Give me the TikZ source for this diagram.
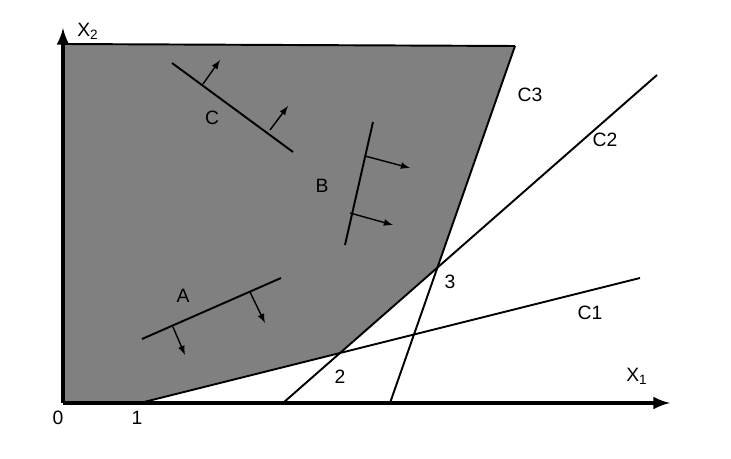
\documentclass[tikz,border=0pt]{standalone}
\usepackage{fontspec}
\setmainfont{Liberation Sans}
\begin{document}
\begin{tikzpicture}[x=0.02cm,y=-0.02cm,line width=1.1pt,
  lbl/.style={font=\fontsize{11}{13}\selectfont},
  arr/.style={-latex,line width=0.8pt},
  axis/.style={-latex,line width=2.2pt}]
\useasboundingbox (0,0) rectangle (731,459);
\coordinate (O) at (63,403);
\coordinate (P1) at (140,403);
\coordinate (P2) at (340,353);
\coordinate (P3) at (438,266);
\coordinate (T) at (515,46);
\fill[fill=black!50] (O) -- (P1) -- (P2) -- (P3) -- (T) -- (63,44) -- cycle;
\draw (P1) -- (640,278);
\draw (283,403) -- (657,75);
\draw (390,403) -- (T);
\draw (63,44) -- (T);
\draw[axis] (O) -- (670,403);
\draw[axis] (O) -- (63,28);
% C
\draw (172,63) -- (293,152);
\draw[arr] (203,84) -- (220,60);
\draw[arr] (270,130) -- (288,106);
% B
\draw (345,245) -- (373,122);
\draw[arr] (365,156) -- (410,168);
\draw[arr] (350,213) -- (393,225);
% A
\draw (142,339) -- (281,278);
\draw[arr] (173,327) -- (185,355);
\draw[arr] (250,292) -- (265,323);
\node[lbl] at (212,118) {C};
\node[lbl] at (322,186) {B};
\node[lbl] at (183,296) {A};
\node[lbl] at (530,95) {C3};
\node[lbl] at (605,140) {C2};
\node[lbl] at (590,313) {C1};
\node[lbl] at (637,376) {X\textsubscript{1}};
\node[lbl] at (88,31) {X\textsubscript{2}};
\node[lbl] at (58,418) {0};
\node[lbl] at (137,418) {1};
\node[lbl] at (340,377) {2};
\node[lbl] at (450,282) {3};
\end{tikzpicture}
\end{document}
